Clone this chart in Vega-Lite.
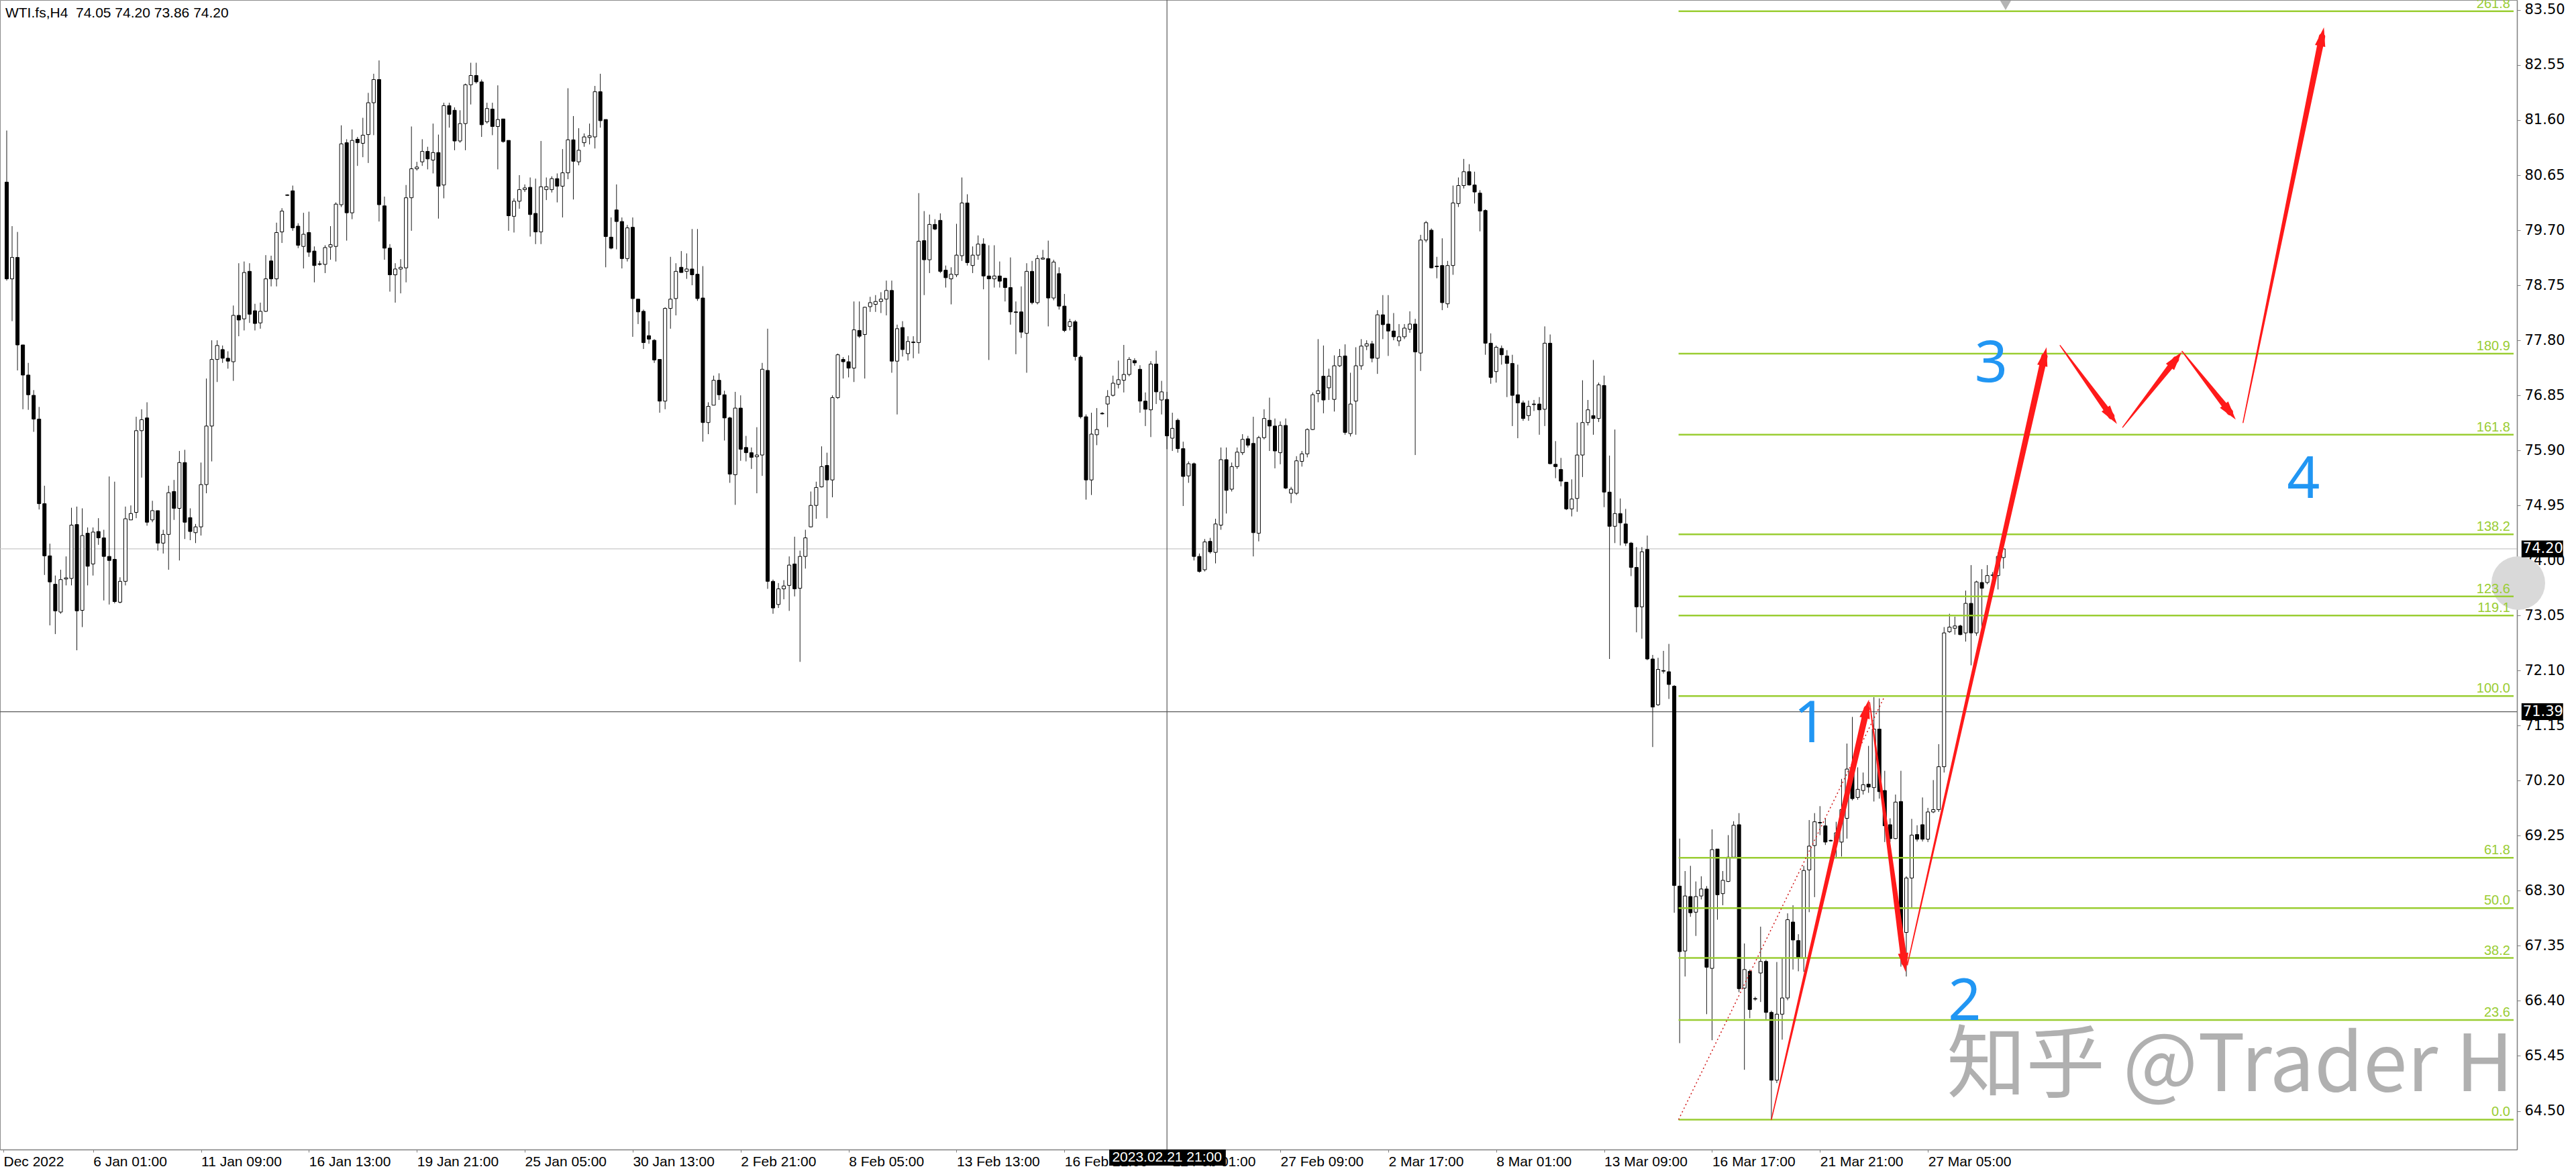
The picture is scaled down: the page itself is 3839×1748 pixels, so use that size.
{
"$schema":"https://vega.github.io/schema/vega-lite/v6.json",
"width":3751,"height":1713,
"autosize":{"type":"none"},
"padding":{"left":0,"top":0,"right":88,"bottom":35},
"background":"white",
"config":{"view":{"stroke":"#8c8c8c","strokeWidth":1},"font":"Liberation Sans"},
"datasets":{
"candles":[
{"i":0,"o":80.53,"h":81.42,"l":78.83,"c":78.86},{"i":1,"o":78.86,"h":79.77,"l":78.13,"c":79.23},{"i":2,"o":79.23,"h":79.67,"l":77.28,"c":77.72},{"i":3,"o":77.72,"h":77.72,"l":76.61,"c":77.2},{"i":4,"o":77.2,"h":77.41,"l":76.6,"c":76.86},{"i":5,"o":76.85,"h":76.94,"l":76.22,"c":76.44},{"i":6,"o":76.44,"h":76.65,"l":74.88,"c":74.98},{"i":7,"o":74.98,"h":75.29,"l":73.75,"c":74.08},{"i":8,"o":74.08,"h":74.29,"l":72.88,"c":73.63},{"i":9,"o":73.59,"h":73.74,"l":72.73,"c":73.13},
{"i":10,"o":73.11,"h":73.84,"l":73.08,"c":73.67},{"i":11,"o":73.68,"h":74.07,"l":73.57,"c":73.7},{"i":12,"o":73.69,"h":74.91,"l":73.57,"c":74.61},{"i":13,"o":74.62,"h":74.93,"l":72.45,"c":73.13},{"i":14,"o":73.14,"h":74.9,"l":72.85,"c":74.43},{"i":15,"o":74.47,"h":74.57,"l":73.57,"c":73.9},{"i":16,"o":73.94,"h":74.57,"l":73.74,"c":74.49},{"i":17,"o":74.5,"h":74.73,"l":74.27,"c":74.39},{"i":18,"o":74.39,"h":74.53,"l":73.31,"c":74.07},{"i":19,"o":74.07,"h":75.45,"l":73.24,"c":74.0},
{"i":20,"o":74.02,"h":75.36,"l":73.26,"c":73.29},{"i":21,"o":73.28,"h":73.71,"l":73.26,"c":73.64},{"i":22,"o":73.64,"h":74.93,"l":73.57,"c":74.72},{"i":23,"o":74.7,"h":74.95,"l":74.7,"c":74.81},{"i":24,"o":74.83,"h":76.48,"l":74.73,"c":76.24},{"i":25,"o":76.24,"h":76.61,"l":75.43,"c":76.43},{"i":26,"o":76.46,"h":76.73,"l":74.6,"c":74.66},{"i":27,"o":74.7,"h":75.03,"l":74.66,"c":74.86},{"i":28,"o":74.86,"h":74.86,"l":74.17,"c":74.3},{"i":29,"o":74.3,"h":74.53,"l":74.12,"c":74.45},
{"i":30,"o":74.45,"h":75.29,"l":73.84,"c":75.17},{"i":31,"o":75.19,"h":75.39,"l":74.7,"c":74.9},{"i":32,"o":74.9,"h":75.89,"l":74.0,"c":75.69},{"i":33,"o":75.69,"h":75.91,"l":74.37,"c":74.66},{"i":34,"o":74.74,"h":74.9,"l":74.35,"c":74.5},{"i":35,"o":74.48,"h":74.63,"l":74.3,"c":74.58},{"i":36,"o":74.58,"h":75.69,"l":74.43,"c":75.31},{"i":37,"o":75.31,"h":77.14,"l":75.16,"c":76.32},{"i":38,"o":76.32,"h":77.8,"l":75.71,"c":77.47},{"i":39,"o":77.47,"h":77.8,"l":77.08,"c":77.71},
{"i":40,"o":77.64,"h":77.71,"l":77.41,"c":77.49},{"i":41,"o":77.49,"h":77.61,"l":77.31,"c":77.44},{"i":42,"o":77.43,"h":78.4,"l":77.1,"c":78.23},{"i":43,"o":78.23,"h":79.13,"l":77.87,"c":78.15},{"i":44,"o":78.17,"h":79.16,"l":77.97,"c":78.97},{"i":45,"o":78.99,"h":79.13,"l":78.1,"c":78.25},{"i":46,"o":78.31,"h":78.43,"l":77.97,"c":78.09},{"i":47,"o":78.1,"h":78.45,"l":78.0,"c":78.3},{"i":48,"o":78.3,"h":79.27,"l":78.29,"c":78.86},{"i":49,"o":79.17,"h":79.26,"l":78.73,"c":78.86},
{"i":50,"o":78.86,"h":79.83,"l":78.73,"c":79.66},{"i":51,"o":79.67,"h":80.08,"l":79.48,"c":80.03},{"i":52,"o":80.3,"h":80.32,"l":80.29,"c":80.31},{"i":53,"o":80.38,"h":80.47,"l":79.69,"c":79.74},{"i":54,"o":79.77,"h":79.82,"l":79.39,"c":79.44},{"i":55,"o":79.42,"h":80.0,"l":79.04,"c":79.63},{"i":56,"o":79.66,"h":80.02,"l":79.24,"c":79.32},{"i":57,"o":79.34,"h":79.42,"l":78.8,"c":79.09},{"i":58,"o":79.12,"h":79.17,"l":79.09,"c":79.11},{"i":59,"o":79.11,"h":79.44,"l":78.96,"c":79.4},
{"i":60,"o":79.41,"h":79.77,"l":79.19,"c":79.45},{"i":61,"o":79.42,"h":80.18,"l":79.16,"c":80.15},{"i":62,"o":80.14,"h":81.51,"l":80.1,"c":81.19},{"i":63,"o":81.21,"h":81.27,"l":79.52,"c":80.0},{"i":64,"o":80.0,"h":81.44,"l":79.89,"c":81.25},{"i":65,"o":81.27,"h":81.31,"l":80.81,"c":81.21},{"i":66,"o":81.2,"h":81.64,"l":80.96,"c":81.34},{"i":67,"o":81.35,"h":82.07,"l":80.86,"c":81.9},{"i":68,"o":81.9,"h":82.4,"l":81.34,"c":82.3},{"i":69,"o":82.3,"h":82.63,"l":79.85,"c":80.14},
{"i":70,"o":80.12,"h":80.28,"l":79.19,"c":79.39},{"i":71,"o":79.39,"h":79.46,"l":78.64,"c":78.93},{"i":72,"o":78.93,"h":79.13,"l":78.45,"c":79.03},{"i":73,"o":79.03,"h":79.2,"l":78.61,"c":79.06},{"i":74,"o":79.05,"h":80.48,"l":78.8,"c":80.26},{"i":75,"o":80.26,"h":81.49,"l":79.69,"c":80.76},{"i":76,"o":80.76,"h":80.88,"l":80.73,"c":80.79},{"i":77,"o":80.88,"h":81.27,"l":80.81,"c":81.06},{"i":78,"o":81.06,"h":81.14,"l":80.75,"c":80.93},{"i":79,"o":80.91,"h":81.54,"l":80.68,"c":81.04},
{"i":80,"o":81.04,"h":81.35,"l":79.9,"c":80.46},{"i":81,"o":80.48,"h":81.9,"l":80.25,"c":81.85},{"i":82,"o":81.85,"h":81.9,"l":81.47,"c":81.7},{"i":83,"o":81.77,"h":81.82,"l":81.08,"c":81.24},{"i":84,"o":81.24,"h":81.77,"l":81.21,"c":81.54},{"i":85,"o":81.54,"h":82.23,"l":81.08,"c":82.21},{"i":86,"o":82.21,"h":82.59,"l":81.87,"c":82.37},{"i":87,"o":82.37,"h":82.59,"l":82.23,"c":82.26},{"i":88,"o":82.26,"h":82.3,"l":81.31,"c":81.52},{"i":89,"o":81.57,"h":81.9,"l":81.54,"c":81.8},
{"i":90,"o":81.79,"h":81.9,"l":81.34,"c":81.49},{"i":91,"o":81.49,"h":82.2,"l":80.75,"c":81.61},{"i":92,"o":81.62,"h":81.62,"l":81.21,"c":81.23},{"i":93,"o":81.25,"h":81.25,"l":79.69,"c":79.95},{"i":94,"o":79.94,"h":80.25,"l":79.66,"c":80.2},{"i":95,"o":80.2,"h":80.65,"l":80.07,"c":80.4},{"i":96,"o":80.4,"h":80.49,"l":80.36,"c":80.43},{"i":97,"o":80.44,"h":80.61,"l":79.59,"c":79.97},{"i":98,"o":79.99,"h":80.59,"l":79.46,"c":79.67},{"i":99,"o":79.67,"h":81.24,"l":79.46,"c":80.45},
{"i":100,"o":80.4,"h":80.61,"l":80.22,"c":80.45},{"i":101,"o":80.4,"h":80.63,"l":80.35,"c":80.59},{"i":102,"o":80.59,"h":80.68,"l":80.18,"c":80.46},{"i":103,"o":80.46,"h":81.1,"l":79.92,"c":80.69},{"i":104,"o":80.69,"h":82.15,"l":80.58,"c":81.26},{"i":105,"o":81.26,"h":81.67,"l":80.23,"c":80.89},{"i":106,"o":80.88,"h":81.46,"l":80.82,"c":81.08},{"i":107,"o":81.21,"h":81.37,"l":81.14,"c":81.31},{"i":108,"o":81.3,"h":81.54,"l":81.18,"c":81.33},{"i":109,"o":81.31,"h":82.19,"l":81.11,"c":82.09},
{"i":110,"o":82.09,"h":82.4,"l":81.47,"c":81.59},{"i":111,"o":81.61,"h":81.61,"l":79.06,"c":79.59},{"i":112,"o":79.58,"h":79.92,"l":79.37,"c":79.39},{"i":113,"o":80.05,"h":80.49,"l":79.37,"c":79.85},{"i":114,"o":79.85,"h":79.92,"l":79.04,"c":79.21},{"i":115,"o":79.21,"h":79.79,"l":79.16,"c":79.74},{"i":116,"o":79.75,"h":79.92,"l":77.86,"c":78.52},{"i":117,"o":78.51,"h":78.51,"l":78.08,"c":78.29},{"i":118,"o":78.3,"h":78.33,"l":77.65,"c":77.76},{"i":119,"o":77.88,"h":78.13,"l":77.74,"c":77.82},
{"i":120,"o":77.8,"h":77.82,"l":77.41,"c":77.46},{"i":121,"o":77.47,"h":77.47,"l":76.55,"c":76.75},{"i":122,"o":76.75,"h":78.37,"l":76.61,"c":78.35},{"i":123,"o":78.35,"h":79.24,"l":78.0,"c":78.51},{"i":124,"o":78.52,"h":79.13,"l":78.23,"c":78.99},{"i":125,"o":79.06,"h":79.34,"l":78.97,"c":78.97},{"i":126,"o":78.99,"h":79.3,"l":78.86,"c":79.03},{"i":127,"o":79.03,"h":79.72,"l":78.75,"c":78.93},{"i":128,"o":78.94,"h":79.72,"l":78.48,"c":78.52},{"i":129,"o":78.53,"h":79.08,"l":76.05,"c":76.38},
{"i":130,"o":76.38,"h":76.73,"l":76.18,"c":76.66},{"i":131,"o":76.68,"h":77.19,"l":76.68,"c":77.11},{"i":132,"o":77.11,"h":77.23,"l":76.77,"c":76.86},{"i":133,"o":76.86,"h":76.93,"l":76.07,"c":76.46},{"i":134,"o":76.46,"h":76.48,"l":75.34,"c":75.49},{"i":135,"o":75.48,"h":76.91,"l":74.96,"c":76.63},{"i":136,"o":76.63,"h":76.85,"l":75.72,"c":75.92},{"i":137,"o":75.95,"h":76.15,"l":75.71,"c":75.86},{"i":138,"o":75.86,"h":75.95,"l":75.58,"c":75.78},{"i":139,"o":75.79,"h":76.3,"l":75.16,"c":75.82},
{"i":140,"o":75.82,"h":77.41,"l":75.46,"c":77.3},{"i":141,"o":77.28,"h":78.0,"l":73.51,"c":73.64},{"i":142,"o":73.64,"h":73.67,"l":73.08,"c":73.18},{"i":143,"o":73.24,"h":73.61,"l":73.18,"c":73.51},{"i":144,"o":73.51,"h":73.66,"l":73.33,"c":73.56},{"i":145,"o":73.57,"h":74.07,"l":73.13,"c":73.92},{"i":146,"o":73.94,"h":74.41,"l":73.38,"c":73.51},{"i":147,"o":73.52,"h":74.17,"l":72.25,"c":74.07},{"i":148,"o":74.07,"h":74.53,"l":73.86,"c":74.39},{"i":149,"o":74.58,"h":75.19,"l":74.57,"c":74.95},
{"i":150,"o":74.95,"h":75.36,"l":74.72,"c":75.26},{"i":151,"o":75.27,"h":75.97,"l":75.26,"c":75.62},{"i":152,"o":75.64,"h":75.86,"l":74.73,"c":75.39},{"i":153,"o":75.39,"h":76.85,"l":75.09,"c":76.81},{"i":154,"o":76.81,"h":77.57,"l":76.79,"c":77.55},{"i":155,"o":77.47,"h":77.51,"l":77.14,"c":77.43},{"i":156,"o":77.43,"h":77.54,"l":77.16,"c":77.32},{"i":157,"o":77.32,"h":78.47,"l":77.08,"c":77.98},{"i":158,"o":77.97,"h":78.47,"l":77.84,"c":77.87},{"i":159,"o":77.9,"h":78.38,"l":77.14,"c":78.37},
{"i":160,"o":78.38,"h":78.55,"l":78.29,"c":78.45},{"i":161,"o":78.42,"h":78.58,"l":78.29,"c":78.47},{"i":162,"o":78.47,"h":78.63,"l":78.27,"c":78.51},{"i":163,"o":78.51,"h":78.83,"l":78.23,"c":78.66},{"i":164,"o":78.66,"h":78.83,"l":77.24,"c":77.44},{"i":165,"o":77.44,"h":78.07,"l":76.52,"c":78.0},{"i":166,"o":78.02,"h":78.13,"l":77.52,"c":77.64},{"i":167,"o":77.57,"h":77.87,"l":77.45,"c":77.78},{"i":168,"o":77.77,"h":77.87,"l":77.49,"c":77.76},{"i":169,"o":77.76,"h":80.34,"l":77.57,"c":79.51},
{"i":170,"o":79.52,"h":80.03,"l":78.58,"c":79.19},{"i":171,"o":79.19,"h":79.97,"l":78.96,"c":79.8},{"i":172,"o":79.8,"h":79.89,"l":79.7,"c":79.72},{"i":173,"o":79.87,"h":79.99,"l":78.96,"c":78.99},{"i":174,"o":79.01,"h":79.09,"l":78.71,"c":78.88},{"i":175,"o":78.86,"h":79.06,"l":78.42,"c":78.94},{"i":176,"o":78.93,"h":79.81,"l":78.89,"c":79.27},{"i":177,"o":79.26,"h":80.61,"l":79.17,"c":80.17},{"i":178,"o":80.17,"h":80.32,"l":79.09,"c":79.14},{"i":179,"o":79.09,"h":79.42,"l":78.96,"c":79.27},
{"i":180,"o":79.27,"h":79.61,"l":79.19,"c":79.46},{"i":181,"o":79.46,"h":79.56,"l":78.68,"c":78.91},{"i":182,"o":78.91,"h":79.44,"l":77.46,"c":78.86},{"i":183,"o":78.86,"h":79.44,"l":78.71,"c":78.91},{"i":184,"o":78.91,"h":79.16,"l":78.71,"c":78.82},{"i":185,"o":78.87,"h":78.88,"l":78.47,"c":78.71},{"i":186,"o":78.71,"h":79.23,"l":78.07,"c":78.29},{"i":187,"o":78.29,"h":78.47,"l":77.56,"c":78.28},{"i":188,"o":78.29,"h":78.73,"l":77.84,"c":77.94},{"i":189,"o":77.92,"h":79.13,"l":77.24,"c":78.99},
{"i":190,"o":78.99,"h":79.17,"l":78.42,"c":78.45},{"i":191,"o":78.45,"h":79.27,"l":78.42,"c":79.21},{"i":192,"o":79.2,"h":79.36,"l":79.19,"c":79.22},{"i":193,"o":79.21,"h":79.52,"l":78.04,"c":78.53},{"i":194,"o":78.53,"h":79.19,"l":78.49,"c":79.15},{"i":195,"o":78.95,"h":79.06,"l":78.33,"c":78.39},{"i":196,"o":78.39,"h":78.6,"l":77.94,"c":77.97},{"i":197,"o":78.04,"h":78.17,"l":77.97,"c":78.12},{"i":198,"o":78.12,"h":78.15,"l":77.45,"c":77.52},{"i":199,"o":77.51,"h":77.54,"l":76.45,"c":76.48},
{"i":200,"o":76.48,"h":76.52,"l":75.05,"c":75.39},{"i":201,"o":75.39,"h":76.55,"l":75.13,"c":76.18},{"i":202,"o":76.17,"h":76.63,"l":75.99,"c":76.26},{"i":203,"o":76.54,"h":76.56,"l":76.52,"c":76.53},{"i":204,"o":76.7,"h":76.94,"l":76.3,"c":76.83},{"i":205,"o":76.85,"h":77.19,"l":76.83,"c":77.06},{"i":206,"o":77.04,"h":77.45,"l":76.97,"c":77.12},{"i":207,"o":77.11,"h":77.72,"l":76.9,"c":77.21},{"i":208,"o":77.21,"h":77.51,"l":77.18,"c":77.47},{"i":209,"o":77.45,"h":77.49,"l":77.36,"c":77.41},
{"i":210,"o":77.3,"h":77.37,"l":76.55,"c":76.75},{"i":211,"o":76.75,"h":76.9,"l":76.32,"c":76.61},{"i":212,"o":76.6,"h":77.44,"l":76.13,"c":77.39},{"i":213,"o":77.39,"h":77.62,"l":76.7,"c":76.91},{"i":214,"o":76.77,"h":77.1,"l":76.52,"c":76.91},{"i":215,"o":76.78,"h":76.91,"l":75.92,"c":76.15},{"i":216,"o":76.11,"h":76.55,"l":75.89,"c":76.28},{"i":217,"o":76.42,"h":76.45,"l":75.86,"c":75.93},{"i":218,"o":75.93,"h":76.05,"l":74.94,"c":75.45},{"i":219,"o":75.46,"h":75.71,"l":75.34,"c":75.67},
{"i":220,"o":75.67,"h":75.69,"l":74.0,"c":74.07},{"i":221,"o":74.07,"h":74.12,"l":73.79,"c":73.81},{"i":222,"o":73.84,"h":74.37,"l":73.81,"c":74.32},{"i":223,"o":74.33,"h":74.39,"l":74.12,"c":74.15},{"i":224,"o":74.14,"h":74.72,"l":73.95,"c":74.63},{"i":225,"o":74.61,"h":75.95,"l":74.53,"c":75.74},{"i":226,"o":75.74,"h":75.95,"l":74.81,"c":75.21},{"i":227,"o":75.23,"h":75.69,"l":75.19,"c":75.62},{"i":228,"o":75.62,"h":75.95,"l":75.58,"c":75.87},{"i":229,"o":75.86,"h":76.18,"l":75.82,"c":76.09},
{"i":230,"o":76.1,"h":76.15,"l":75.95,"c":75.99},{"i":231,"o":76.02,"h":76.48,"l":74.07,"c":74.48},{"i":232,"o":74.47,"h":76.15,"l":74.33,"c":76.12},{"i":233,"o":76.12,"h":76.61,"l":76.09,"c":76.45},{"i":234,"o":76.42,"h":76.81,"l":75.89,"c":76.32},{"i":235,"o":76.32,"h":76.45,"l":75.59,"c":75.89},{"i":236,"o":75.86,"h":76.4,"l":75.66,"c":76.33},{"i":237,"o":76.33,"h":76.45,"l":75.23,"c":75.25},{"i":238,"o":75.16,"h":75.27,"l":74.99,"c":75.23},{"i":239,"o":75.16,"h":75.8,"l":75.13,"c":75.72},
{"i":240,"o":75.71,"h":75.89,"l":75.62,"c":75.84},{"i":241,"o":75.84,"h":76.28,"l":75.78,"c":76.26},{"i":242,"o":76.26,"h":76.9,"l":76.25,"c":76.86},{"i":243,"o":76.88,"h":77.82,"l":76.73,"c":76.93},{"i":244,"o":77.18,"h":77.71,"l":76.54,"c":76.77},{"i":245,"o":76.98,"h":77.31,"l":76.77,"c":77.18},{"i":246,"o":76.78,"h":77.54,"l":76.57,"c":77.36},{"i":247,"o":77.36,"h":77.65,"l":77.34,"c":77.52},{"i":248,"o":77.53,"h":77.73,"l":76.17,"c":76.21},{"i":249,"o":76.19,"h":77.24,"l":76.14,"c":76.7},
{"i":250,"o":76.75,"h":77.68,"l":76.17,"c":77.36},{"i":251,"o":77.36,"h":77.82,"l":77.29,"c":77.7},{"i":252,"o":77.7,"h":77.8,"l":77.63,"c":77.74},{"i":253,"o":77.74,"h":77.79,"l":77.42,"c":77.49},{"i":254,"o":77.49,"h":78.32,"l":77.22,"c":78.24},{"i":255,"o":78.24,"h":78.58,"l":77.82,"c":78.07},{"i":256,"o":78.08,"h":78.58,"l":77.53,"c":77.96},{"i":257,"o":77.96,"h":78.27,"l":77.8,"c":77.86},{"i":258,"o":77.79,"h":78.08,"l":77.7,"c":77.86},{"i":259,"o":77.86,"h":78.08,"l":77.82,"c":78.01},
{"i":260,"o":77.99,"h":78.3,"l":77.93,"c":78.08},{"i":261,"o":78.08,"h":78.17,"l":75.82,"c":77.6},{"i":262,"o":77.58,"h":79.62,"l":77.27,"c":79.53},{"i":263,"o":79.53,"h":79.86,"l":79.49,"c":79.83},{"i":264,"o":79.7,"h":79.73,"l":79.04,"c":79.05},{"i":265,"o":79.08,"h":79.24,"l":78.87,"c":79.07},{"i":266,"o":79.09,"h":79.56,"l":78.32,"c":78.45},{"i":267,"o":78.43,"h":79.17,"l":78.36,"c":79.09},{"i":268,"o":79.09,"h":80.47,"l":78.93,"c":80.17},{"i":269,"o":80.16,"h":80.61,"l":80.1,"c":80.47},
{"i":270,"o":80.47,"h":80.93,"l":80.42,"c":80.71},{"i":271,"o":80.71,"h":80.84,"l":80.47,"c":80.48},{"i":272,"o":80.48,"h":80.71,"l":80.16,"c":80.36},{"i":273,"o":80.34,"h":80.39,"l":79.68,"c":80.03},{"i":274,"o":80.04,"h":80.06,"l":77.55,"c":77.75},{"i":275,"o":77.75,"h":77.92,"l":77.05,"c":77.16},{"i":276,"o":77.26,"h":77.71,"l":77.07,"c":77.68},{"i":277,"o":77.66,"h":77.71,"l":77.38,"c":77.55},{"i":278,"o":77.53,"h":77.63,"l":76.82,"c":77.4},{"i":279,"o":77.4,"h":77.55,"l":76.32,"c":76.85},
{"i":280,"o":76.86,"h":77.38,"l":76.11,"c":76.72},{"i":281,"o":76.72,"h":76.76,"l":76.41,"c":76.45},{"i":282,"o":76.5,"h":76.76,"l":76.41,"c":76.66},{"i":283,"o":76.7,"h":76.77,"l":76.58,"c":76.69},{"i":284,"o":76.7,"h":76.82,"l":76.17,"c":76.6},{"i":285,"o":76.61,"h":78.04,"l":76.32,"c":77.75},{"i":286,"o":77.75,"h":77.9,"l":75.66,"c":75.67},{"i":287,"o":75.66,"h":76.06,"l":75.42,"c":75.62},{"i":288,"o":75.57,"h":75.77,"l":75.28,"c":75.37},{"i":289,"o":75.35,"h":75.35,"l":74.87,"c":74.89},
{"i":290,"o":74.89,"h":75.4,"l":74.76,"c":75.06},{"i":291,"o":75.07,"h":76.38,"l":74.84,"c":75.82},{"i":292,"o":75.82,"h":77.11,"l":75.44,"c":76.38},{"i":293,"o":76.38,"h":76.77,"l":76.33,"c":76.6},{"i":294,"o":76.5,"h":77.46,"l":76.17,"c":76.45},{"i":295,"o":76.45,"h":77.07,"l":76.39,"c":77.03},{"i":296,"o":77.02,"h":77.19,"l":74.92,"c":75.18},{"i":297,"o":75.18,"h":75.81,"l":72.3,"c":74.59},{"i":298,"o":74.59,"h":76.26,"l":74.3,"c":74.81},{"i":299,"o":74.81,"h":75.07,"l":74.26,"c":74.65},
{"i":300,"o":74.63,"h":74.89,"l":74.25,"c":74.3},{"i":301,"o":74.3,"h":74.32,"l":73.73,"c":73.88},{"i":302,"o":73.88,"h":74.23,"l":72.76,"c":73.2},{"i":303,"o":73.2,"h":74.23,"l":72.65,"c":74.15},{"i":304,"o":74.19,"h":74.43,"l":72.28,"c":72.3},{"i":305,"o":72.3,"h":72.37,"l":70.78,"c":71.47},{"i":306,"o":71.51,"h":72.32,"l":71.49,"c":72.12},{"i":307,"o":72.1,"h":72.44,"l":72.05,"c":72.09},{"i":308,"o":72.08,"h":72.56,"l":71.61,"c":71.86},{"i":309,"o":71.83,"h":71.85,"l":67.92,"c":68.39},
{"i":310,"o":68.38,"h":69.2,"l":65.67,"c":67.25},{"i":311,"o":67.26,"h":68.64,"l":66.82,"c":68.21},{"i":312,"o":68.2,"h":68.73,"l":67.85,"c":67.92},{"i":313,"o":67.93,"h":68.46,"l":67.52,"c":68.2},{"i":314,"o":68.21,"h":68.55,"l":68.15,"c":68.33},{"i":315,"o":68.33,"h":68.38,"l":66.17,"c":66.98},{"i":316,"o":66.96,"h":69.36,"l":65.72,"c":69.01},{"i":317,"o":69.02,"h":69.02,"l":67.8,"c":68.23},{"i":318,"o":68.25,"h":68.64,"l":68.05,"c":68.48},{"i":319,"o":68.46,"h":69.26,"l":68.45,"c":68.88},
{"i":320,"o":68.88,"h":69.5,"l":68.86,"c":69.43},{"i":321,"o":69.44,"h":69.64,"l":66.55,"c":66.61},{"i":322,"o":66.62,"h":67.39,"l":65.21,"c":66.94},{"i":323,"o":66.91,"h":66.94,"l":66.1,"c":66.25},{"i":324,"o":66.44,"h":66.47,"l":66.4,"c":66.43},{"i":325,"o":66.88,"h":67.68,"l":66.38,"c":67.08},{"i":326,"o":67.08,"h":67.11,"l":66.08,"c":66.2},{"i":327,"o":66.2,"h":66.23,"l":64.35,"c":65.03},{"i":328,"o":65.03,"h":67.07,"l":64.98,"c":66.17},{"i":329,"o":66.17,"h":67.14,"l":65.73,"c":66.45},
{"i":330,"o":66.45,"h":67.91,"l":66.41,"c":67.8},{"i":331,"o":67.76,"h":68.05,"l":66.94,"c":67.45},{"i":332,"o":67.44,"h":67.55,"l":66.91,"c":67.14},{"i":333,"o":67.14,"h":68.73,"l":66.9,"c":68.65},{"i":334,"o":68.66,"h":69.52,"l":67.93,"c":69.07},{"i":335,"o":69.08,"h":69.64,"l":68.19,"c":69.49},{"i":336,"o":69.48,"h":69.76,"l":69.26,"c":69.47},{"i":337,"o":69.42,"h":69.55,"l":69.09,"c":69.14},{"i":338,"o":69.17,"h":69.18,"l":69.15,"c":69.16},{"i":339,"o":69.14,"h":69.49,"l":68.88,"c":69.3},
{"i":340,"o":69.14,"h":70.23,"l":68.89,"c":69.7},{"i":341,"o":69.55,"h":70.84,"l":69.2,"c":70.4},{"i":342,"o":70.37,"h":71.3,"l":69.86,"c":69.89},{"i":343,"o":69.91,"h":70.43,"l":69.87,"c":70.05},{"i":344,"o":70.03,"h":70.34,"l":69.96,"c":70.13},{"i":345,"o":70.14,"h":70.8,"l":69.99,"c":70.09},{"i":346,"o":70.08,"h":71.64,"l":69.84,"c":71.09},{"i":347,"o":71.09,"h":71.62,"l":69.89,"c":70.01},{"i":348,"o":70.03,"h":70.37,"l":69.14,"c":69.42},{"i":349,"o":69.44,"h":69.55,"l":69.14,"c":69.2},
{"i":350,"o":69.2,"h":69.96,"l":69.19,"c":69.83},{"i":351,"o":69.84,"h":70.37,"l":66.99,"c":67.58},{"i":352,"o":67.58,"h":68.55,"l":66.82,"c":68.52},{"i":353,"o":68.52,"h":69.54,"l":68.01,"c":69.26},{"i":354,"o":69.27,"h":69.43,"l":69.15,"c":69.19},{"i":355,"o":69.44,"h":69.91,"l":69.15,"c":69.19},{"i":356,"o":69.19,"h":69.73,"l":69.14,"c":69.66},{"i":357,"o":69.66,"h":70.21,"l":69.64,"c":69.7},{"i":358,"o":69.7,"h":70.83,"l":69.66,"c":70.44},{"i":359,"o":70.44,"h":72.85,"l":70.34,"c":72.75},
{"i":360,"o":72.77,"h":73.08,"l":72.75,"c":72.85},{"i":361,"o":72.83,"h":73.03,"l":72.72,"c":72.87},{"i":362,"o":72.87,"h":72.89,"l":72.71,"c":72.72},{"i":363,"o":72.75,"h":73.48,"l":72.6,"c":73.26},{"i":364,"o":73.26,"h":73.92,"l":72.19,"c":72.75},{"i":365,"o":72.75,"h":73.65,"l":72.7,"c":73.63},{"i":366,"o":73.62,"h":73.85,"l":72.75,"c":73.52},{"i":367,"o":73.62,"h":73.92,"l":73.59,"c":73.74},{"i":368,"o":73.74,"h":73.8,"l":73.6,"c":73.75},{"i":369,"o":73.74,"h":74.14,"l":73.5,"c":74.07},
{"i":370,"o":74.05,"h":74.2,"l":73.86,"c":74.2}
],
"fib":[{"lv":"0.0","p":64.35},{"lv":"23.6","p":66.07},{"lv":"38.2","p":67.14},{"lv":"50.0","p":68.0},{"lv":"61.8","p":68.87},{"lv":"100.0","p":71.66},{"lv":"119.1","p":73.05},{"lv":"123.6","p":73.38},{"lv":"138.2","p":74.45},{"lv":"161.8","p":76.17},{"lv":"180.9","p":77.57},{"lv":"261.8","p":83.48}],
"arrows":[
{"leg":1,"f":0,"i":327.0,"p":64.35},{"leg":1,"f":1,"i":344.68,"p":71.44},
{"leg":2,"f":0,"i":345.2,"p":71.55},{"leg":2,"f":1,"i":351.65,"p":67.06},
{"leg":3,"f":0,"i":352.2,"p":67.02},{"leg":3,"f":1,"i":377.59,"p":77.52},
{"leg":4,"f":0,"i":380.5,"p":77.71},{"leg":4,"f":1,"i":390.0,"p":76.49},
{"leg":5,"f":0,"i":392.1,"p":76.3},{"leg":5,"f":1,"i":401.95,"p":77.47},
{"leg":6,"f":0,"i":403.1,"p":77.61},{"leg":6,"f":1,"i":411.96,"p":76.56},
{"leg":7,"f":0,"i":414.4,"p":76.38},{"leg":7,"f":1,"i":429.03,"p":83.04}
],
"waves":[{"t":"1","i":334.2,"p":71.16},{"t":"2","i":362.8,"p":66.37},{"t":"3","i":367.7,"p":77.39},{"t":"4","i":425.6,"p":75.38}],
"refs":[{"name":"last","p":74.2},{"name":"cross","p":71.39}],
"cursor":[{"t":"2023.02.21 21:00","i":215}]
},
"layer":[
{"data":{"name":"refs"},"mark":{"type":"rule","strokeWidth":1.2},
 "encoding":{"y":{"field":"p","type":"quantitative","title":null,"scale":{"domain":[63.892,83.615],"nice":false,"zero":false}},
  "color":{"condition":{"test":"datum.name == 'last'","value":"#c8c8c8"},"value":"#5a5a5a"}}},
{"data":{"name":"cursor"},"mark":{"type":"rule","color":"#5a5a5a","strokeWidth":1.2},
 "encoding":{"x":{"field":"i","type":"quantitative","title":null,"scale":{"domain":[-0.62,464.53],"nice":false,"zero":false}}}},
{"data":{"name":"candles"},"mark":{"type":"rule","color":"#1a1a1a","strokeWidth":1},
 "encoding":{
  "x":{"field":"i","type":"quantitative","title":null,"scale":{"domain":[-0.62,464.53],"nice":false,"zero":false},
   "axis":{"orient":"bottom","title":null,"grid":false,"values":[-0.62,16,36,56,76,96,116,136,156,176,196,216,236,256,276,296,316,336,356],
    "labelExpr":"datum.value < 0 ? 'Dec 2022' : ({'16':'6 Jan 01:00','36':'11 Jan 09:00','56':'16 Jan 13:00','76':'19 Jan 21:00','96':'25 Jan 05:00','116':'30 Jan 13:00','136':'2 Feb 21:00','156':'8 Feb 05:00','176':'13 Feb 13:00','196':'16 Feb 21:00','216':'22 Feb 01:00','236':'27 Feb 09:00','256':'2 Mar 17:00','276':'8 Mar 01:00','296':'13 Mar 09:00','316':'16 Mar 17:00','336':'21 Mar 21:00','356':'27 Mar 05:00'})[datum.value]",
    "labelAlign":"left","labelBaseline":"top","labelPadding":3,"labelFont":"Liberation Sans","labelFontSize":21,"labelColor":"#000000",
    "tickSize":4,"tickColor":"#808080","domainColor":"#808080","domainWidth":1.5,"labelOverlap":false,"labelFlush":false,"labelBound":false}},
  "y":{"field":"l","type":"quantitative","title":null,"scale":{"domain":[63.892,83.615],"nice":false,"zero":false},
   "axis":{"orient":"right","title":null,"grid":false,"values":[64.5,65.45,66.4,67.35,68.3,69.25,70.2,71.15,72.1,73.05,74.0,74.95,75.9,76.85,77.8,78.75,79.7,80.65,81.6,82.55,83.5],
    "format":".2f","labelAlign":"left","labelBaseline":"middle","labelPadding":6,"labelFont":"DejaVu Sans","labelFontSize":21,"labelColor":"#000000",
    "tickSize":5,"tickColor":"#808080","domainColor":"#808080","domainWidth":1.5,"labelOverlap":false,"labelFlush":false,"labelBound":false}},
  "y2":{"field":"h"}}},
{"data":{"name":"candles"},"mark":{"type":"bar","size":5,"stroke":"#000000","strokeWidth":1},
 "encoding":{
  "x":{"field":"i","type":"quantitative"},
  "y":{"field":"o","type":"quantitative"},
  "y2":{"field":"c"},
  "fill":{"condition":{"test":"datum.c >= datum.o","value":"#ffffff"},"value":"#000000"}}},
{"data":{"values":[{"i":465.4,"p":73.61}]},"mark":{"type":"point","shape":"circle","filled":true,"color":"#d9d9d9","opacity":1,"size":6400},
 "encoding":{"x":{"field":"i","type":"quantitative"},"y":{"field":"p","type":"quantitative"}}},
{"data":{"name":"fib"},"mark":{"type":"rule","color":"#9acd32","strokeWidth":2.5},
 "encoding":{"x":{"datum":309.8,"type":"quantitative"},"x2":{"datum":464.53},"y":{"field":"p","type":"quantitative"}}},
{"data":{"name":"fib"},"mark":{"type":"text","color":"#9acd32","align":"right","baseline":"bottom","dy":-1,"font":"Liberation Sans","fontSize":20},
 "encoding":{"x":{"datum":463.9,"type":"quantitative"},"y":{"field":"p","type":"quantitative"},"text":{"field":"lv"}}},
{"data":{"values":[{"i":309.8,"p":64.35},{"i":348.0,"p":71.66}]},"mark":{"type":"line","color":"#d01515","strokeWidth":1.5,"strokeDash":[2,4]},
 "encoding":{"x":{"field":"i","type":"quantitative"},"y":{"field":"p","type":"quantitative"}}},
{"data":{"name":"arrows"},"mark":{"type":"trail","color":"#ff1a1a"},
 "encoding":{"x":{"field":"i","type":"quantitative"},"y":{"field":"p","type":"quantitative"},"detail":{"field":"leg","type":"nominal"},"order":{"field":"f"},
  "size":{"field":"f","type":"quantitative","scale":{"domain":[0,1],"range":[1.5,9.5]},"legend":null}}},
{"data":{"name":"arrows"},"transform":[{"filter":"datum.f == 1"}],
 "mark":{"type":"point","shape":"M0,-1L0.55,1L-0.55,1Z","filled":true,"color":"#ff1a1a","opacity":1,"size":800},
 "encoding":{"x":{"field":"i","type":"quantitative"},"y":{"field":"p","type":"quantitative"},
  "angle":{"field":"leg","type":"quantitative","scale":{"type":"threshold","domain":[1.5,2.5,3.5,4.5,5.5,6.5],"range":[13,172.4,12.7,143.9,38.2,142.2,11.5]},"legend":null}}},
{"data":{"name":"waves"},"mark":{"type":"text","color":"#2196f3","font":"Noto Sans","fontSize":86,"align":"center","baseline":"middle"},
 "encoding":{"x":{"field":"i","type":"quantitative"},"y":{"field":"p","type":"quantitative"},"text":{"field":"t"}}},
{"data":{"values":[{"t":"知乎 @Trader H","i":359.5,"p":65.25}]},"mark":{"type":"text","color":"#b0b0b0","font":"Noto Sans CJK SC","fontSize":118,"align":"left","baseline":"middle"},
 "encoding":{"x":{"field":"i","type":"quantitative"},"y":{"field":"p","type":"quantitative"},"text":{"field":"t"}}},
{"data":{"name":"refs"},"mark":{"type":"bar","color":"#000000","size":25},
 "encoding":{"x":{"datum":466.0,"type":"quantitative"},"x2":{"datum":473.7},"y":{"field":"p","type":"quantitative"}}},
{"data":{"name":"refs"},"mark":{"type":"text","color":"#ffffff","align":"left","baseline":"middle","font":"DejaVu Sans","fontSize":21,"dx":2},
 "encoding":{"x":{"datum":466.0,"type":"quantitative"},"y":{"field":"p","type":"quantitative"},"text":{"field":"p","type":"quantitative","format":".2f"}}},
{"data":{"name":"cursor"},"mark":{"type":"bar","color":"#000000","size":24},
 "encoding":{"x":{"datum":204.3,"type":"quantitative"},"x2":{"datum":225.9},"y":{"datum":63.696,"type":"quantitative"}}},
{"data":{"name":"cursor"},"mark":{"type":"text","color":"#ffffff","align":"center","baseline":"middle","font":"Liberation Sans","fontSize":21},
 "encoding":{"x":{"field":"i","type":"quantitative"},"y":{"datum":63.696,"type":"quantitative"},"text":{"field":"t"}}},
{"data":{"values":[{"t":"WTI.fs,H4\u00a0\u00a074.05 74.20 73.86 74.20"}]},"mark":{"type":"text","color":"#000000","align":"left","baseline":"middle","font":"Liberation Sans","fontSize":21},
 "encoding":{"x":{"datum":-0.25,"type":"quantitative"},"y":{"datum":83.44,"type":"quantitative"},"text":{"field":"t"}}},
{"data":{"values":[{"i":370.4,"p":83.58}]},"mark":{"type":"point","shape":"triangle-down","filled":true,"color":"#b4b4b4","opacity":1,"size":260},
 "encoding":{"x":{"field":"i","type":"quantitative"},"y":{"field":"p","type":"quantitative"}}}
]
}
